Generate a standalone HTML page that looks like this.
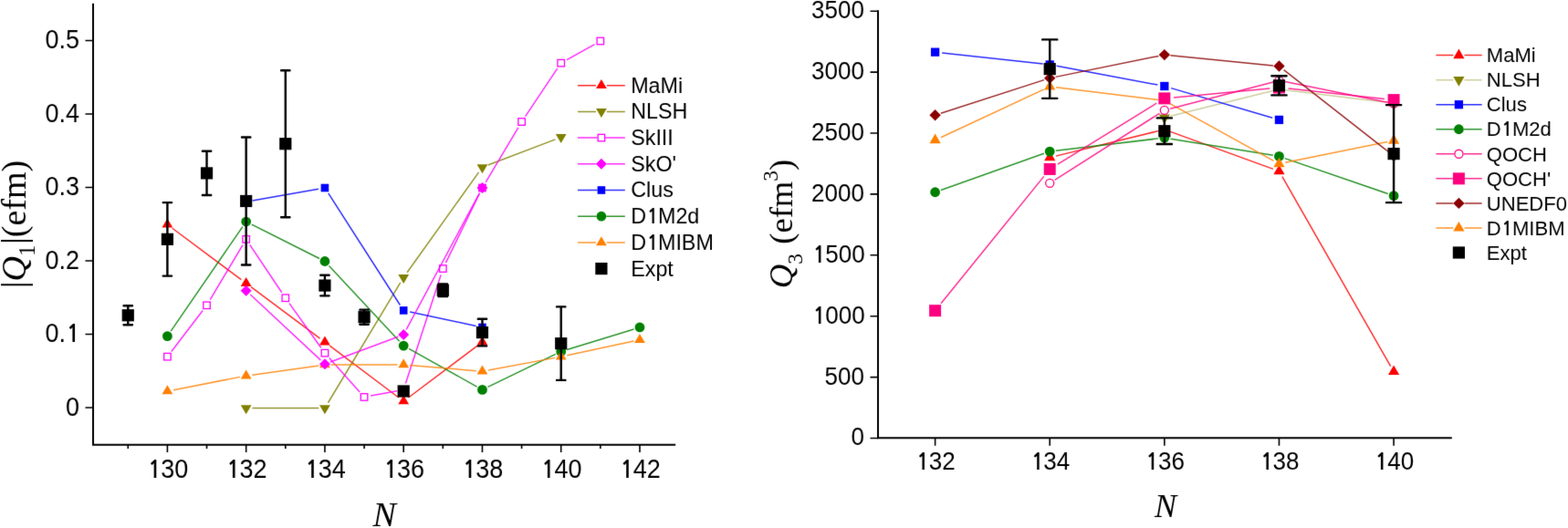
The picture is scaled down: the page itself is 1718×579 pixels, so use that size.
<!DOCTYPE html>
<html><head><meta charset="utf-8"><title>Plot</title>
<style>html,body{margin:0;padding:0;background:#fff;}svg{display:block;}#w{width:1718px;height:579px;overflow:hidden;}</style>
</head><body><div id="w">
<svg width="1718" height="579" viewBox="0 0 1718 579">
<defs><filter id="bl" x="0" y="0" width="100%" height="100%" filterUnits="userSpaceOnUse" color-interpolation-filters="sRGB"><feConvolveMatrix order="3" kernelMatrix="0.00524 0.06192 0.00524 0.06192 0.73137 0.06192 0.00524 0.06192 0.00524" divisor="1" edgeMode="duplicate" preserveAlpha="true"/></filter></defs>
<g filter="url(#bl)">
<rect width="1718" height="579" fill="#fff"/>
<path d="M102 3.7V487.7H740.2" stroke="#000" stroke-width="2" fill="none" stroke-linejoin="miter"/>
<path d="M93.5 447H102M93.5 366.5H102M93.5 286H102M93.5 205.5H102M93.5 125H102M93.5 44.5H102M140.27 487.7V491.9M183.4 487.7V495.9M226.53 487.7V491.9M269.66 487.7V495.9M312.79 487.7V491.9M355.92 487.7V495.9M399.05 487.7V491.9M442.18 487.7V495.9M485.31 487.7V491.9M528.44 487.7V495.9M571.57 487.7V491.9M614.7 487.7V495.9M657.83 487.7V491.9M700.96 487.7V495.9" stroke="#000" stroke-width="1.6" fill="none"/>
<text transform="translate(86.9 455.7) scale(1 1.07)" font-family="'Liberation Sans', Arial, sans-serif" font-size="27" text-anchor="end">0</text>
<text transform="translate(87.52 375.2) scale(1 1.07)" font-family="'Liberation Sans', Arial, sans-serif" font-size="27" text-anchor="end">0.<tspan font-family="NanumGothic, 'Liberation Sans', sans-serif" font-size="24.52" font-weight="bold" dx="0.78">1</tspan></text>
<text transform="translate(86.9 294.7) scale(1 1.07)" font-family="'Liberation Sans', Arial, sans-serif" font-size="27" text-anchor="end">0.2</text>
<text transform="translate(86.9 214.2) scale(1 1.07)" font-family="'Liberation Sans', Arial, sans-serif" font-size="27" text-anchor="end">0.3</text>
<text transform="translate(86.9 133.7) scale(1 1.07)" font-family="'Liberation Sans', Arial, sans-serif" font-size="27" text-anchor="end">0.4</text>
<text transform="translate(86.9 53.2) scale(1 1.07)" font-family="'Liberation Sans', Arial, sans-serif" font-size="27" text-anchor="end">0.5</text>
<text transform="translate(183.4 523.6) scale(1 1.07)" font-family="'Liberation Sans', Arial, sans-serif" font-size="27" text-anchor="middle"><tspan font-family="NanumGothic, 'Liberation Sans', sans-serif" font-size="24.52" font-weight="bold" dx="0.78">1</tspan><tspan dx="-0.62">30</tspan></text>
<text transform="translate(269.66 523.6) scale(1 1.07)" font-family="'Liberation Sans', Arial, sans-serif" font-size="27" text-anchor="middle"><tspan font-family="NanumGothic, 'Liberation Sans', sans-serif" font-size="24.52" font-weight="bold" dx="0.78">1</tspan><tspan dx="-0.62">32</tspan></text>
<text transform="translate(355.92 523.6) scale(1 1.07)" font-family="'Liberation Sans', Arial, sans-serif" font-size="27" text-anchor="middle"><tspan font-family="NanumGothic, 'Liberation Sans', sans-serif" font-size="24.52" font-weight="bold" dx="0.78">1</tspan><tspan dx="-0.62">34</tspan></text>
<text transform="translate(442.18 523.6) scale(1 1.07)" font-family="'Liberation Sans', Arial, sans-serif" font-size="27" text-anchor="middle"><tspan font-family="NanumGothic, 'Liberation Sans', sans-serif" font-size="24.52" font-weight="bold" dx="0.78">1</tspan><tspan dx="-0.62">36</tspan></text>
<text transform="translate(528.44 523.6) scale(1 1.07)" font-family="'Liberation Sans', Arial, sans-serif" font-size="27" text-anchor="middle"><tspan font-family="NanumGothic, 'Liberation Sans', sans-serif" font-size="24.52" font-weight="bold" dx="0.78">1</tspan><tspan dx="-0.62">38</tspan></text>
<text transform="translate(614.7 523.6) scale(1 1.07)" font-family="'Liberation Sans', Arial, sans-serif" font-size="27" text-anchor="middle"><tspan font-family="NanumGothic, 'Liberation Sans', sans-serif" font-size="24.52" font-weight="bold" dx="0.78">1</tspan><tspan dx="-0.62">40</tspan></text>
<text transform="translate(700.96 523.6) scale(1 1.07)" font-family="'Liberation Sans', Arial, sans-serif" font-size="27" text-anchor="middle"><tspan font-family="NanumGothic, 'Liberation Sans', sans-serif" font-size="24.52" font-weight="bold" dx="0.78">1</tspan><tspan dx="-0.62">42</tspan></text>
<text x="421.3" y="577.2" font-family="'Liberation Serif', 'Times New Roman', serif" font-size="38" font-style="italic" text-anchor="middle">N</text>
<text transform="translate(27.7,316) rotate(-90)" font-family="'Liberation Serif', 'Times New Roman', serif" font-size="38" text-anchor="start">|<tspan font-style="italic">Q</tspan><tspan font-size="24.7" dy="10.5">1</tspan><tspan dx="0.8" dy="-10.5">|(efm)</tspan></text>
<path d="M962 11.3V480.2H1590.8" stroke="#000" stroke-width="2" fill="none" stroke-linejoin="miter"/>
<path d="M953.5 480.5H962M953.5 413.6H962M953.5 346.7H962M953.5 279.8H962M953.5 212.9H962M953.5 146H962M953.5 79.1H962M953.5 12.2H962M1024.6 480.2V488.7M1150.22 480.2V488.7M1275.84 480.2V488.7M1401.46 480.2V488.7M1527.08 480.2V488.7" stroke="#000" stroke-width="1.6" fill="none"/>
<text transform="translate(946.9 488.4) scale(1 1.04)" font-family="'Liberation Sans', Arial, sans-serif" font-size="26" text-anchor="end">0</text>
<text transform="translate(946.9 421.5) scale(1 1.04)" font-family="'Liberation Sans', Arial, sans-serif" font-size="26" text-anchor="end">500</text>
<text transform="translate(946.9 354.6) scale(1 1.04)" font-family="'Liberation Sans', Arial, sans-serif" font-size="26" text-anchor="end"><tspan font-family="NanumGothic, 'Liberation Sans', sans-serif" font-size="23.61" font-weight="bold" dx="0.75">1</tspan><tspan dx="-0.6">000</tspan></text>
<text transform="translate(946.9 287.7) scale(1 1.04)" font-family="'Liberation Sans', Arial, sans-serif" font-size="26" text-anchor="end"><tspan font-family="NanumGothic, 'Liberation Sans', sans-serif" font-size="23.61" font-weight="bold" dx="0.75">1</tspan><tspan dx="-0.6">500</tspan></text>
<text transform="translate(946.9 220.8) scale(1 1.04)" font-family="'Liberation Sans', Arial, sans-serif" font-size="26" text-anchor="end">2000</text>
<text transform="translate(946.9 153.9) scale(1 1.04)" font-family="'Liberation Sans', Arial, sans-serif" font-size="26" text-anchor="end">2500</text>
<text transform="translate(946.9 87) scale(1 1.04)" font-family="'Liberation Sans', Arial, sans-serif" font-size="26" text-anchor="end">3000</text>
<text transform="translate(946.9 20.1) scale(1 1.04)" font-family="'Liberation Sans', Arial, sans-serif" font-size="26" text-anchor="end">3500</text>
<text transform="translate(1024.6 515.4) scale(1 1.04)" font-family="'Liberation Sans', Arial, sans-serif" font-size="26" text-anchor="middle"><tspan font-family="NanumGothic, 'Liberation Sans', sans-serif" font-size="23.61" font-weight="bold" dx="0.75">1</tspan><tspan dx="-0.6">32</tspan></text>
<text transform="translate(1150.22 515.4) scale(1 1.04)" font-family="'Liberation Sans', Arial, sans-serif" font-size="26" text-anchor="middle"><tspan font-family="NanumGothic, 'Liberation Sans', sans-serif" font-size="23.61" font-weight="bold" dx="0.75">1</tspan><tspan dx="-0.6">34</tspan></text>
<text transform="translate(1275.84 515.4) scale(1 1.04)" font-family="'Liberation Sans', Arial, sans-serif" font-size="26" text-anchor="middle"><tspan font-family="NanumGothic, 'Liberation Sans', sans-serif" font-size="23.61" font-weight="bold" dx="0.75">1</tspan><tspan dx="-0.6">36</tspan></text>
<text transform="translate(1401.46 515.4) scale(1 1.04)" font-family="'Liberation Sans', Arial, sans-serif" font-size="26" text-anchor="middle"><tspan font-family="NanumGothic, 'Liberation Sans', sans-serif" font-size="23.61" font-weight="bold" dx="0.75">1</tspan><tspan dx="-0.6">38</tspan></text>
<text transform="translate(1527.08 515.4) scale(1 1.04)" font-family="'Liberation Sans', Arial, sans-serif" font-size="26" text-anchor="middle"><tspan font-family="NanumGothic, 'Liberation Sans', sans-serif" font-size="23.61" font-weight="bold" dx="0.75">1</tspan><tspan dx="-0.6">40</tspan></text>
<text x="1277" y="567.2" font-family="'Liberation Serif', 'Times New Roman', serif" font-size="36" font-style="italic" text-anchor="middle">N</text>
<text transform="translate(867.5,316.2) rotate(-90)" font-family="'Liberation Serif', 'Times New Roman', serif" font-size="36.6" text-anchor="start"><tspan font-style="italic">Q</tspan><tspan font-size="23.4" dy="11.6">3</tspan><tspan dx="1.2" dy="-11.6"> (efm</tspan><tspan font-size="23.4" dy="-15.5">3</tspan><tspan dy="15.5">)</tspan></text>
<path d="M188.77 250.26L264.29 306.64M275.03 314.66L350.55 371.04M361.27 379.08L436.83 435.98M447.53 435.98L523.09 379.08" stroke="#ff0000" stroke-width="1.5" stroke-opacity="0.82" fill="none"/>
<polygon points="177.5,249.58 189.3,249.58 183.4,239.58" fill="#ff0000"/>
<polygon points="263.76,313.98 275.56,313.98 269.66,303.98" fill="#ff0000"/>
<polygon points="350.02,378.38 361.82,378.38 355.92,368.38" fill="#ff0000"/>
<polygon points="436.28,443.35 448.08,443.35 442.18,433.35" fill="#ff0000"/>
<polygon points="522.54,378.38 534.34,378.38 528.44,368.38" fill="#ff0000"/>
<path d="M276.36 447.5L349.22 447.5M359.38 441.76L438.72 309.95M446.07 298.76L524.55 188.91M534.7 181.07L608.44 152.85" stroke="#808000" stroke-width="1.5" stroke-opacity="0.82" fill="none"/>
<polygon points="263.76,444.17 275.56,444.17 269.66,454.17" fill="#808000"/>
<polygon points="350.02,444.17 361.82,444.17 355.92,454.17" fill="#808000"/>
<polygon points="436.28,300.88 448.08,300.88 442.18,310.88" fill="#808000"/>
<polygon points="522.54,180.13 534.34,180.13 528.44,190.13" fill="#808000"/>
<polygon points="608.8,147.12 620.6,147.12 614.7,157.12" fill="#808000"/>
<path d="M187.79 385.42L222.14 340.53M230.22 328.59L265.97 268.56M273.68 268.35L308.77 320.75M316.99 332.63L351.72 381.25M360.73 392.51L394.24 430.04M406.15 434.1L435.08 428.7M444.41 420.51L483.08 301.42M488.47 288.06L525.28 212.49M532.13 199.79L567.88 139.76M575.59 127.55L610.68 75.15M621 65.62L651.53 48.53" stroke="#ff00ff" stroke-width="1.5" stroke-opacity="0.82" fill="none"/>
<rect x="179.65" y="387.4" width="7.5" height="7.5" fill="none" stroke="#ff00ff" stroke-width="1.3"/>
<rect x="222.78" y="331.05" width="7.5" height="7.5" fill="none" stroke="#ff00ff" stroke-width="1.3"/>
<rect x="265.91" y="258.6" width="7.5" height="7.5" fill="none" stroke="#ff00ff" stroke-width="1.3"/>
<rect x="309.04" y="323" width="7.5" height="7.5" fill="none" stroke="#ff00ff" stroke-width="1.3"/>
<rect x="352.17" y="383.38" width="7.5" height="7.5" fill="none" stroke="#ff00ff" stroke-width="1.3"/>
<rect x="395.3" y="431.68" width="7.5" height="7.5" fill="none" stroke="#ff00ff" stroke-width="1.3"/>
<rect x="438.43" y="423.62" width="7.5" height="7.5" fill="none" stroke="#ff00ff" stroke-width="1.3"/>
<rect x="481.56" y="290.8" width="7.5" height="7.5" fill="none" stroke="#ff00ff" stroke-width="1.3"/>
<rect x="524.69" y="202.25" width="7.5" height="7.5" fill="none" stroke="#ff00ff" stroke-width="1.3"/>
<rect x="567.82" y="129.8" width="7.5" height="7.5" fill="none" stroke="#ff00ff" stroke-width="1.3"/>
<rect x="610.95" y="65.4" width="7.5" height="7.5" fill="none" stroke="#ff00ff" stroke-width="1.3"/>
<rect x="654.08" y="41.25" width="7.5" height="7.5" fill="none" stroke="#ff00ff" stroke-width="1.3"/>
<path d="M276.63 220.06L348.95 207.24M359.74 211.96L438.36 334.48M449.1 341.92L521.52 357.46" stroke="#0000ff" stroke-width="1.5" stroke-opacity="0.82" fill="none"/>
<rect x="265.36" y="216.99" width="8.6" height="8.6" fill="#0000ff"/>
<rect x="351.62" y="201.7" width="8.6" height="8.6" fill="#0000ff"/>
<rect x="437.88" y="336.13" width="8.6" height="8.6" fill="#0000ff"/>
<rect x="524.14" y="354.65" width="8.6" height="8.6" fill="#0000ff"/>
<path d="M187.19 363.09L265.87 248.55M275.64 246.05L349.94 283.48M360.49 291.4L437.61 374.17M448.03 382.35L522.59 424.1M534.47 424.45L608.67 388.44M621.1 383.54L694.56 360.92" stroke="#008000" stroke-width="1.5" stroke-opacity="0.82" fill="none"/>
<circle cx="183.4" cy="368.61" r="5.4" fill="#008000"/>
<circle cx="269.66" cy="243.03" r="5.4" fill="#008000"/>
<circle cx="355.92" cy="286.5" r="5.4" fill="#008000"/>
<circle cx="442.18" cy="379.07" r="5.4" fill="#008000"/>
<circle cx="528.44" cy="427.38" r="5.4" fill="#008000"/>
<circle cx="614.7" cy="385.51" r="5.4" fill="#008000"/>
<circle cx="700.96" cy="358.95" r="5.4" fill="#008000"/>
<path d="M189.97 427.7L263.09 413.37M276.3 411.15L349.28 400.93M362.62 400L435.48 400M448.86 400.57L521.76 406.69M535.03 406.02L608.11 392.38M621.25 389.74L694.41 374.04" stroke="#ff8000" stroke-width="1.5" stroke-opacity="0.82" fill="none"/>
<polygon points="177.5,432.32 189.3,432.32 183.4,422.32" fill="#ff8000"/>
<polygon points="263.76,415.41 275.56,415.41 269.66,405.41" fill="#ff8000"/>
<polygon points="350.02,403.34 361.82,403.34 355.92,393.34" fill="#ff8000"/>
<polygon points="436.28,403.34 448.08,403.34 442.18,393.34" fill="#ff8000"/>
<polygon points="522.54,410.58 534.34,410.58 528.44,400.58" fill="#ff8000"/>
<polygon points="608.8,394.48 620.6,394.48 614.7,384.48" fill="#ff8000"/>
<polygon points="695.06,375.97 706.86,375.97 700.96,365.97" fill="#ff8000"/>
<path d="M274.27 323L351.31 394.9M361.82 397L436.28 369.2M445.16 361.45L525.46 211.55" stroke="#ff00ff" stroke-width="1.5" stroke-opacity="0.82" fill="none"/>
<polygon points="269.66,312.7 275.66,318.7 269.66,324.7 263.66,318.7" fill="#ff00ff"/>
<polygon points="355.92,393.2 361.92,399.2 355.92,405.2 349.92,399.2" fill="#ff00ff"/>
<polygon points="442.18,361 448.18,367 442.18,373 436.18,367" fill="#ff00ff"/>
<polygon points="528.44,200 534.44,206 528.44,212 522.44,206" fill="#ff00ff"/>
<path d="M140.27 335.28V356.21M135.57 335.28H144.97M135.57 356.21H144.97M183.4 222.1V302.6M178.7 222.1H188.1M178.7 302.6H188.1M226.53 165.75V214.05M221.83 165.75H231.23M221.83 214.05H231.23M269.66 150.45V290.52M264.96 150.45H274.36M264.96 290.52H274.36M312.79 77.2V238.2M308.09 77.2H317.49M308.09 238.2H317.49M355.92 301.79V324.34M351.22 301.79H360.62M351.22 324.34H360.62M399.05 339.63V355.73M394.35 339.63H403.75M394.35 355.73H403.75M485.31 311.45V325.14M480.61 311.45H490.01M480.61 325.14H490.01M528.44 349.77V379.4M523.74 349.77H533.14M523.74 379.4H533.14M614.7 336.41V416.91M610 336.41H619.4M610 416.91H619.4" stroke="#000" stroke-width="2.4" fill="none" stroke-linecap="round"/>
<rect x="133.67" y="339.15" width="13.2" height="13.2" fill="#000"/>
<rect x="176.8" y="255.75" width="13.2" height="13.2" fill="#000"/>
<rect x="219.93" y="183.3" width="13.2" height="13.2" fill="#000"/>
<rect x="263.06" y="213.89" width="13.2" height="13.2" fill="#000"/>
<rect x="306.19" y="151.1" width="13.2" height="13.2" fill="#000"/>
<rect x="349.32" y="306.46" width="13.2" height="13.2" fill="#000"/>
<rect x="392.45" y="341.08" width="13.2" height="13.2" fill="#000"/>
<rect x="435.58" y="422.38" width="13.2" height="13.2" fill="#000"/>
<rect x="478.71" y="311.7" width="13.2" height="13.2" fill="#000"/>
<rect x="521.84" y="357.99" width="13.2" height="13.2" fill="#000"/>
<rect x="608.1" y="370.06" width="13.2" height="13.2" fill="#000"/>
<path d="M633 93.7H653M664.8 93.7H684.8" stroke="#ff0000" stroke-width="1.5" stroke-opacity="0.82"/>
<polygon points="653,97.03 664.8,97.03 658.9,87.03" fill="#ff0000"/>
<text transform="translate(691.2 101.6) scale(1 1.06)" font-family="'Liberation Sans', Arial, sans-serif" font-size="23.3" text-anchor="start">MaMi</text>
<path d="M633 122.4H653M664.8 122.4H684.8" stroke="#808000" stroke-width="1.5" stroke-opacity="0.82"/>
<polygon points="653,119.07 664.8,119.07 658.9,129.07" fill="#808000"/>
<text transform="translate(691.2 130.3) scale(1 1.06)" font-family="'Liberation Sans', Arial, sans-serif" font-size="23.3" text-anchor="start">NLSH</text>
<path d="M633 151.1H654.5M663.3 151.1H684.8" stroke="#ff00ff" stroke-width="1.5" stroke-opacity="0.82"/>
<rect x="655.15" y="147.35" width="7.5" height="7.5" fill="none" stroke="#ff00ff" stroke-width="1.3"/>
<text transform="translate(691.2 159) scale(1 1.06)" font-family="'Liberation Sans', Arial, sans-serif" font-size="23.3" text-anchor="start">SkIII</text>
<path d="M633 179.8H652.9M664.9 179.8H684.8" stroke="#ff00ff" stroke-width="1.5" stroke-opacity="0.82"/>
<polygon points="658.9,173.8 664.9,179.8 658.9,185.8 652.9,179.8" fill="#ff00ff"/>
<text transform="translate(691.2 187.7) scale(1 1.06)" font-family="'Liberation Sans', Arial, sans-serif" font-size="23.3" text-anchor="start">SkO'</text>
<path d="M633 208.5H654.6M663.2 208.5H684.8" stroke="#0000ff" stroke-width="1.5" stroke-opacity="0.82"/>
<rect x="654.6" y="204.2" width="8.6" height="8.6" fill="#0000ff"/>
<text transform="translate(691.2 216.4) scale(1 1.06)" font-family="'Liberation Sans', Arial, sans-serif" font-size="23.3" text-anchor="start">Clus</text>
<path d="M633 237.2H653.5M664.3 237.2H684.8" stroke="#008000" stroke-width="1.5" stroke-opacity="0.82"/>
<circle cx="658.9" cy="237.2" r="5.4" fill="#008000"/>
<text transform="translate(691.2 245.1) scale(1 1.06)" font-family="'Liberation Sans', Arial, sans-serif" font-size="23.3" text-anchor="start">D<tspan font-family="NanumGothic, 'Liberation Sans', sans-serif" font-size="21.16" font-weight="bold" dx="0.67">1</tspan><tspan dx="-0.53">M2d</tspan></text>
<path d="M633 265.9H653M664.8 265.9H684.8" stroke="#ff8000" stroke-width="1.5" stroke-opacity="0.82"/>
<polygon points="653,269.23 664.8,269.23 658.9,259.23" fill="#ff8000"/>
<text transform="translate(691.2 273.8) scale(1 1.06)" font-family="'Liberation Sans', Arial, sans-serif" font-size="23.3" text-anchor="start">D<tspan font-family="NanumGothic, 'Liberation Sans', sans-serif" font-size="21.16" font-weight="bold" dx="0.67">1</tspan><tspan dx="-0.53">MIBM</tspan></text>
<rect x="652.3" y="288" width="13.2" height="13.2" fill="#000"/>
<text transform="translate(691.2 302.5) scale(1 1.06)" font-family="'Liberation Sans', Arial, sans-serif" font-size="23.3" text-anchor="start">Expt</text>
<path d="M1156.92 171.12L1269.14 143.63M1282.32 144.35L1394.98 185.38M1404.88 193.74L1523.66 401.59" stroke="#ff0000" stroke-width="1.5" stroke-opacity="0.82" fill="none"/>
<polygon points="1144.12,176.29 1156.32,176.29 1150.22,165.69" fill="#ff0000"/>
<polygon points="1269.74,145.52 1281.94,145.52 1275.84,134.92" fill="#ff0000"/>
<polygon points="1395.36,191.28 1407.56,191.28 1401.46,180.68" fill="#ff0000"/>
<polygon points="1520.98,411.11 1533.18,411.11 1527.08,400.51" fill="#ff0000"/>
<path d="M1282.54 127.35L1394.76 99.49M1408.31 98.67L1520.23 112.38" stroke="#c4c48a" stroke-width="1.5" stroke-opacity="0.82" fill="none"/>
<polygon points="1269.74,125.47 1281.94,125.47 1275.84,136.07" fill="#808000"/>
<polygon points="1395.36,94.3 1407.56,94.3 1401.46,104.9" fill="#808000"/>
<polygon points="1520.98,109.69 1533.18,109.69 1527.08,120.29" fill="#808000"/>
<path d="M1032.13 57.98L1142.69 70.11M1157.67 72.33L1268.39 93.09M1283.11 96.62L1394.19 129.28" stroke="#0000ff" stroke-width="1.5" stroke-opacity="0.82" fill="none"/>
<rect x="1019.95" y="52.51" width="9.3" height="9.3" fill="#0000ff"/>
<rect x="1145.57" y="66.29" width="9.3" height="9.3" fill="#0000ff"/>
<rect x="1271.19" y="89.84" width="9.3" height="9.3" fill="#0000ff"/>
<rect x="1396.81" y="126.77" width="9.3" height="9.3" fill="#0000ff"/>
<path d="M1030.91 208.51L1143.91 168.32M1156.87 165.28L1269.19 151.88M1282.45 152.16L1394.85 170.35M1407.8 173.6L1520.74 212.46" stroke="#008000" stroke-width="1.5" stroke-opacity="0.82" fill="none"/>
<circle cx="1024.6" cy="210.76" r="5.4" fill="#008000"/>
<circle cx="1150.22" cy="166.07" r="5.4" fill="#008000"/>
<circle cx="1275.84" cy="151.08" r="5.4" fill="#008000"/>
<circle cx="1401.46" cy="171.42" r="5.4" fill="#008000"/>
<circle cx="1527.08" cy="214.64" r="5.4" fill="#008000"/>
<path d="M1030.85 150.7L1143.97 97.81M1157.07 95.73L1268.99 109.44M1281.88 113.61L1395.42 176.38M1408.22 178.34L1520.32 155.54" stroke="#ff8000" stroke-width="1.5" stroke-opacity="0.82" fill="none"/>
<polygon points="1018.5,157.16 1030.7,157.16 1024.6,146.56" fill="#ff8000"/>
<polygon points="1144.12,98.42 1156.32,98.42 1150.22,87.82" fill="#ff8000"/>
<polygon points="1269.74,113.81 1281.94,113.81 1275.84,103.21" fill="#ff8000"/>
<polygon points="1395.36,183.25 1407.56,183.25 1401.46,172.65" fill="#ff8000"/>
<polygon points="1520.98,157.7 1533.18,157.7 1527.08,147.1" fill="#ff8000"/>
<path d="M1155.7 197.37L1270.36 124.34M1282.13 119.22L1395.17 89.96M1407.83 89.61L1520.71 112.34" stroke="#ff0080" stroke-width="1.5" stroke-opacity="0.82" fill="none"/>
<circle cx="1150.22" cy="200.86" r="4.55" fill="none" stroke="#ff0080" stroke-width="1.3"/>
<circle cx="1275.84" cy="120.85" r="4.55" fill="none" stroke="#ff0080" stroke-width="1.3"/>
<circle cx="1401.46" cy="88.33" r="4.55" fill="none" stroke="#ff0080" stroke-width="1.3"/>
<circle cx="1527.08" cy="113.62" r="4.55" fill="none" stroke="#ff0080" stroke-width="1.3"/>
<path d="M1031.01 332.76L1143.81 193.39M1158.89 180.11L1267.17 113.22M1285.99 106.91L1391.31 96.92M1411.59 97.06L1516.95 108.51" stroke="#ff0080" stroke-width="1.5" stroke-opacity="0.82" fill="none"/>
<rect x="1018.1" y="334.18" width="13" height="13" fill="#ff0080"/>
<rect x="1143.72" y="178.97" width="13" height="13" fill="#ff0080"/>
<rect x="1269.34" y="101.37" width="13" height="13" fill="#ff0080"/>
<rect x="1394.96" y="89.46" width="13" height="13" fill="#ff0080"/>
<rect x="1520.58" y="103.11" width="13" height="13" fill="#ff0080"/>
<path d="M1030.79 124.2L1144.03 87.65M1156.59 84.36L1269.47 61.4M1282.31 60.74L1394.99 71.9M1406.58 76.55L1521.96 167.01" stroke="#8a0000" stroke-width="1.5" stroke-opacity="0.82" fill="none"/>
<polygon points="1024.6,120 1030.8,126.2 1024.6,132.4 1018.4,126.2" fill="#8a0000"/>
<polygon points="1150.22,79.46 1156.42,85.66 1150.22,91.86 1144.02,85.66" fill="#8a0000"/>
<polygon points="1275.84,53.9 1282.04,60.1 1275.84,66.3 1269.64,60.1" fill="#8a0000"/>
<polygon points="1401.46,66.34 1407.66,72.54 1401.46,78.74 1395.26,72.54" fill="#8a0000"/>
<polygon points="1527.08,164.82 1533.28,171.02 1527.08,177.22 1520.88,171.02" fill="#8a0000"/>
<path d="M1150.22 43.38V107.87M1142.12 43.38H1158.32M1142.12 107.87H1158.32M1275.84 129.41V158.04M1267.74 129.41H1283.94M1267.74 158.04H1283.94M1401.46 83.25V104.39M1393.36 83.25H1409.56M1393.36 104.39H1409.56M1527.08 115.09V222.13M1518.98 115.09H1535.18M1518.98 222.13H1535.18" stroke="#000" stroke-width="2.4" fill="none" stroke-linecap="round"/>
<rect x="1143.62" y="69.02" width="13.2" height="13.2" fill="#000"/>
<rect x="1269.24" y="137.13" width="13.2" height="13.2" fill="#000"/>
<rect x="1394.86" y="87.22" width="13.2" height="13.2" fill="#000"/>
<rect x="1520.48" y="162.01" width="13.2" height="13.2" fill="#000"/>
<path d="M1573.4 60.6H1592.3M1604.5 60.6H1623.7" stroke="#ff0000" stroke-width="1.5" stroke-opacity="0.82"/>
<polygon points="1592.3,64.13 1604.5,64.13 1598.4,53.53" fill="#ff0000"/>
<text transform="translate(1628.8 68.3) scale(1 1)" font-family="'Liberation Sans', Arial, sans-serif" font-size="22.06" text-anchor="start">MaMi</text>
<path d="M1573.4 87.65H1592.3M1604.5 87.65H1623.7" stroke="#c4c48a" stroke-width="1.5" stroke-opacity="0.82"/>
<polygon points="1592.3,84.12 1604.5,84.12 1598.4,94.72" fill="#808000"/>
<text transform="translate(1628.8 95.35) scale(1 1)" font-family="'Liberation Sans', Arial, sans-serif" font-size="22.06" text-anchor="start">NLSH</text>
<path d="M1573.4 114.7H1593.75M1603.05 114.7H1623.7" stroke="#0000ff" stroke-width="1.5" stroke-opacity="0.82"/>
<rect x="1593.75" y="110.05" width="9.3" height="9.3" fill="#0000ff"/>
<text transform="translate(1628.8 122.4) scale(1 1)" font-family="'Liberation Sans', Arial, sans-serif" font-size="22.06" text-anchor="start">Clus</text>
<path d="M1573.4 141.75H1593M1603.8 141.75H1623.7" stroke="#008000" stroke-width="1.5" stroke-opacity="0.82"/>
<circle cx="1598.4" cy="141.75" r="5.4" fill="#008000"/>
<text transform="translate(1628.8 149.45) scale(1 1)" font-family="'Liberation Sans', Arial, sans-serif" font-size="22.06" text-anchor="start">D<tspan font-family="NanumGothic, 'Liberation Sans', sans-serif" font-size="20.03" font-weight="bold" dx="0.64">1</tspan><tspan dx="-0.51">M2d</tspan></text>
<path d="M1573.4 168.8H1593.2M1603.6 168.8H1623.7" stroke="#ff0080" stroke-width="1.5" stroke-opacity="0.82"/>
<circle cx="1598.4" cy="168.8" r="4.55" fill="none" stroke="#ff0080" stroke-width="1.3"/>
<text transform="translate(1628.8 176.5) scale(1 1)" font-family="'Liberation Sans', Arial, sans-serif" font-size="22.06" text-anchor="start">QOCH</text>
<path d="M1573.4 195.85H1591.9M1604.9 195.85H1623.7" stroke="#ff0080" stroke-width="1.5" stroke-opacity="0.82"/>
<rect x="1591.9" y="189.35" width="13" height="13" fill="#ff0080"/>
<text transform="translate(1628.8 203.55) scale(1 1)" font-family="'Liberation Sans', Arial, sans-serif" font-size="22.06" text-anchor="start">QOCH'</text>
<path d="M1573.4 222.9H1592.2M1604.6 222.9H1623.7" stroke="#8a0000" stroke-width="1.5" stroke-opacity="0.82"/>
<polygon points="1598.4,216.7 1604.6,222.9 1598.4,229.1 1592.2,222.9" fill="#8a0000"/>
<text transform="translate(1628.8 230.6) scale(1 1)" font-family="'Liberation Sans', Arial, sans-serif" font-size="22.06" text-anchor="start">UNEDF0</text>
<path d="M1573.4 249.95H1592.3M1604.5 249.95H1623.7" stroke="#ff8000" stroke-width="1.5" stroke-opacity="0.82"/>
<polygon points="1592.3,253.48 1604.5,253.48 1598.4,242.88" fill="#ff8000"/>
<text transform="translate(1628.8 257.65) scale(1 1)" font-family="'Liberation Sans', Arial, sans-serif" font-size="22.06" text-anchor="start">D<tspan font-family="NanumGothic, 'Liberation Sans', sans-serif" font-size="20.03" font-weight="bold" dx="0.64">1</tspan><tspan dx="-0.51">MIBM</tspan></text>
<rect x="1591.8" y="270.4" width="13.2" height="13.2" fill="#000"/>
<text transform="translate(1628.8 284.7) scale(1 1)" font-family="'Liberation Sans', Arial, sans-serif" font-size="22.06" text-anchor="start">Expt</text>
</g>
</svg>
</div></body></html>
